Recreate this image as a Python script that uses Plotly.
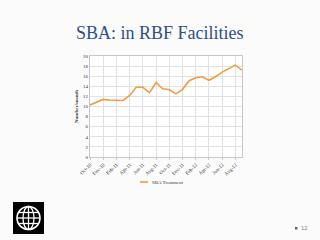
import plotly.graph_objects as go

months = ["Oct-10", "Nov-10", "Dec-10", "Jan-11", "Feb-11", "Mar-11", "Apr-11", "May-11",
          "Jun-11", "Jul-11", "Aug-11", "Sep-11", "Oct-11", "Nov-11", "Dec-11", "Jan-12",
          "Feb-12", "Mar-12", "Apr-12", "May-12", "Jun-12", "Jul-12", "Aug-12", "Sep-12"]
sba_treatment = [10.3, 10.9, 11.4, 11.3, 11.25, 11.2, 12.2, 13.8, 13.8, 12.75, 14.75, 13.5,
                 13.3, 12.5, 13.4, 15.1, 15.7, 15.9, 15.2, 15.9, 16.8, 17.5, 18.2, 17.2]
tick_labels = months[::2]
y_ticks = list(range(0, 21, 2))

W, H = 320, 240
L, R, T, B = 90, 242, 56, 157

def px(x):
    return (x - L) / (R - L)

def py(y):
    return (B - y) / (B - T)

fig = go.Figure()
fig.add_trace(go.Scatter(x=months, y=sba_treatment, mode="lines", name="SBA Treatment",
                         line=dict(color="#F29A45", width=1.6), showlegend=False))

shapes = []
# World Bank logo
shapes.append(dict(type="rect", xref="paper", yref="paper", x0=px(13), x1=px(44), y0=py(234), y1=py(202),
                   fillcolor="black", line=dict(width=0), layer="above"))
cx, cy, r = 28.5, 218, 11.5
wl = dict(color="white", width=1.6)
shapes.append(dict(type="circle", xref="paper", yref="paper", x0=px(cx - r), x1=px(cx + r),
                   y0=py(cy + r), y1=py(cy - r), line=wl, layer="above"))
for rx in [5.5]:
    shapes.append(dict(type="circle", xref="paper", yref="paper", x0=px(cx - rx), x1=px(cx + rx),
                       y0=py(cy + r), y1=py(cy - r), line=dict(color="white", width=1.3), layer="above"))
shapes.append(dict(type="line", xref="paper", yref="paper", x0=px(cx), x1=px(cx),
                   y0=py(cy + r), y1=py(cy - r), line=dict(color="white", width=1.3), layer="above"))
for dy, half in [(0, r), (-5.5, 10.1), (5.5, 10.1)]:
    shapes.append(dict(type="line", xref="paper", yref="paper", x0=px(cx - half), x1=px(cx + half),
                       y0=py(cy + dy), y1=py(cy + dy), line=dict(color="white", width=1.3), layer="above"))
# legend line
shapes.append(dict(type="line", xref="paper", yref="paper", x0=px(140), x1=px(148),
                   y0=py(182), y1=py(182), line=dict(color="#F29A45", width=1.6)))
# page marker
shapes.append(dict(type="rect", xref="paper", yref="paper", x0=px(295), x1=px(297.5),
                   y0=py(229.5), y1=py(227), fillcolor="#666666", line=dict(width=0)))

annotations = [
    dict(text="SBA: in RBF Facilities", xref="paper", yref="paper", x=px(160), y=py(33),
         showarrow=False, font=dict(family="Liberation Serif", size=18, color="#2F5089"),
         xanchor="center", yanchor="middle"),
    dict(text="SBA Treatment", xref="paper", yref="paper", x=px(149.5), y=py(182),
         showarrow=False, font=dict(family="Liberation Serif", size=5, color="#333333"),
         xanchor="left", yanchor="middle"),
    dict(text="12", xref="paper", yref="paper", x=px(299), y=py(228.3),
         showarrow=False, font=dict(family="Liberation Sans", size=6, color="#888888"),
         xanchor="left", yanchor="middle"),
]

fig.update_layout(
    width=W, height=H,
    margin=dict(l=L, r=W - R, t=T, b=H - B, pad=0),
    paper_bgcolor="#fbfbfb", plot_bgcolor="white",
    shapes=shapes, annotations=annotations,
    xaxis=dict(type="category", range=[0, len(months) - 1], tickvals=tick_labels, ticktext=tick_labels,
               tickangle=-45, tickfont=dict(family="Liberation Serif", size=5, color="#333333"),
               showgrid=True, gridcolor="#e2e2e2", gridwidth=0.8,
               showline=True, linecolor="#c8c8c8", linewidth=0.8, mirror=True,
               ticks="outside", ticklen=2, tickcolor="#c8c8c8", zeroline=False),
    yaxis=dict(range=[0, 20], tickvals=y_ticks, tickfont=dict(family="Liberation Serif", size=5, color="#333333"),
               showgrid=True, gridcolor="#e2e2e2", gridwidth=0.8,
               showline=True, linecolor="#c8c8c8", linewidth=0.8, mirror=True,
               ticks="", zeroline=False,
               title=dict(text="<b>Number/month</b>", standoff=4,
                          font=dict(family="Liberation Serif", size=5, color="#333333"))),
)

fig.write_html("out.html")
